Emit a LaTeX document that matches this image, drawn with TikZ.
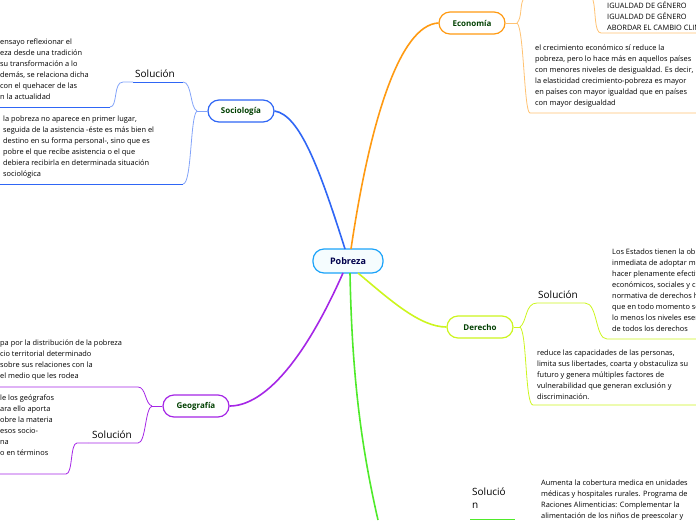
\documentclass[tikz,border=0pt]{standalone}
\usepackage{fontspec}
\setmainfont{Open Sans}
\begin{document}
\begin{tikzpicture}[x=1pt,y=-1pt,
  main/.style={draw=#1,line width=1.2pt,rounded corners=11pt,fill=white,minimum width=66pt,minimum height=22pt,font=\fontsize{8}{9}\selectfont\bfseries,text=green!25!black},
  txt/.style={anchor=north west,align=left,inner sep=0pt,font=\fontsize{7.4}{11}\selectfont,text=black},
  sol/.style={anchor=south west,inner sep=0pt,font=\fontsize{10}{13}\selectfont,text=black},
  ln/.style={draw=#1,line width=0.8pt},
  tk/.style={draw=#1,line width=1.6pt}]
\useasboundingbox (0,0) rectangle (696,520);
\clip (0,0) rectangle (696,520);
\definecolor{cBlue}{HTML}{2F66F5}
\definecolor{cOr}{HTML}{FF9A12}
\definecolor{cYg}{HTML}{CCF51E}
\definecolor{cPu}{HTML}{A526E6}
\definecolor{cGr}{HTML}{4FEA2A}
% nodes
\node[draw=cBlue!60!cyan,line width=1.2pt,rounded corners=11pt,fill=cyan!4,minimum width=70pt,minimum height=24pt,font=\fontsize{9}{10}\selectfont\bfseries,text=blue!30!black] (P) at (348,261) {Pobreza};
\node[main=cOr] (E) at (472,23) {Economía};
\node[main=cBlue] (S) at (241,111) {Sociología};
\node[main=cYg] (D) at (480,327) {Derecho};
\node[main=cPu] (G) at (196,406) {Geografía};
% main connectors
\draw[tk=cBlue] (345,249) .. controls (320,170) and (300,115) .. (S.east);
\draw[tk=cOr] (351,249) .. controls (370,120) and (400,25) .. (E.west);
\draw[tk=cYg] (358,273) .. controls (390,300) and (420,327) .. (D.west);
\draw[tk=cPu] (343,273) .. controls (300,370) and (260,406) .. (G.east);
\coordinate (gend) at (378,520);
\draw[tk=cGr] (350,273) .. controls (352,380) and (362,450) .. (gend);
% Economia
\coordinate (eb) at (517,23);
\draw[ln=cOr!60] (E.east) -- (eb);
\coordinate (et) at (523,0);
\draw[ln=cOr!60] (eb) .. controls (522,18) and (520,5) .. (et);
\coordinate (e1a) at (593,0);
\draw[ln=cOr!60] (e1a) .. controls (596,10) and (594,33) .. (601,33) -- (696,33);
\node[txt] (e1) at (607,1) {IGUALDAD DE GÉNERO\\IGUALDAD DE GÉNERO\\ABORDAR EL CAMBIO CLIMÁTICO};
\draw[ln=cOr!60] (eb) .. controls (524,28) and (524,113) .. (530,113) -- (696,113);
\node[txt] (e2) at (535,45) {el crecimiento económico sí reduce la\\pobreza, pero lo hace más en aquellos países\\con menores niveles de desigualdad. Es decir,\\la elasticidad crecimiento-pobreza es mayor\\en países con mayor igualdad que en países\\con mayor desigualdad};
% Sociologia
\coordinate (sb) at (197,111);
\draw[ln=cBlue!60] (S.west) -- (sb);
\node[sol] (ss) at (135,78) {Solución};
\draw[ln=cBlue] (183,82) -- (133,82);
\draw[ln=cBlue!60] (sb) .. controls (190,108) and (192,82) .. (183,82);
\draw[ln=cBlue!60] (133,82) -- (123,82) .. controls (113,82) and (118,107) .. (110,107);
\draw[ln=cBlue] (110,107) -- (0,107);
\node[txt] (s1) at (0,38.5) {ensayo reflexionar el\\eza desde una tradición\\ su transformación a lo\\demás, se relaciona dicha\\con el quehacer de las\\n la actualidad};
\draw[ln=cBlue!60] (sb) .. controls (190,116) and (192,184) .. (183,184);
\draw[ln=cBlue] (183,184) -- (0,184);
\node[txt] (s2) at (3,115.5) { la pobreza no aparece en primer lugar,\\seguida de la asistencia -éste es más bien el\\destino en su forma personal-, sino que es\\pobre el que recibe asistencia o el que\\debiera recibirla en determinada situación\\sociológica};
% Derecho
\coordinate (db) at (520,327);
\draw[ln=cYg] (D.east) -- (db);
\node[sol] (ds) at (538,299) {Solución};
\draw[ln=cYg] (db) .. controls (527,322) and (525,303) .. (537,303) -- (585,303);
\draw[ln=cYg] (585,303) .. controls (598,303) and (595,339) .. (607,339) -- (696,339);
\node[txt] (d1) at (612,248.5) {Los Estados tienen la obligación\\inmediata de adoptar medidas para\\hacer plenamente efectivos los derechos\\económicos, sociales y culturales; la\\normativa de derechos humanos exige\\que en todo momento se garanticen al\\lo menos los niveles esenciales mínimos\\de todos los derechos};
\draw[ln=cYg] (db) .. controls (527,332) and (525,405) .. (533,405) -- (696,405);
\node[txt] (d2) at (537,349.5) { reduce las capacidades de las personas,\\limita sus libertades, coarta y obstaculiza su\\futuro y genera múltiples factores de\\vulnerabilidad que generan exclusión y\\discriminación.};
% Geografia
\coordinate (gb) at (152,406);
\draw[ln=cPu] (G.west) -- (gb);
\draw[ln=cPu] (gb) .. controls (145,404) and (146,387) .. (138,387) -- (0,387);
\node[txt] (g1) at (0,339.5) {pa por la distribución de la pobreza\\ cio territorial determinado\\ sobre sus relaciones con la\\ el medio que les rodea};
\node[sol] (gs) at (92,439) {Solución};
\draw[ln=cPu] (gb) .. controls (145,408) and (146,443) .. (138,443) -- (88,443);
\draw[ln=cPu] (88,443) -- (77,443) .. controls (70,443) and (73,474) .. (66,474) -- (0,474);
\node[txt] (g2) at (0,394.5) {le los geógrafos\\ara ello aporta\\obre la materia\\esos socio-\\na\\o en términos};
% green branch
\node[sol,anchor=north west,align=left] (gs2) at (472,488) {Solució\\n};
\draw[ln=cGr] (470,519) -- (515,519);
\node[txt] (gt) at (541,479.5) { Aumenta la cobertura medica en unidades\\médicas y hospitales rurales. Programa de\\Raciones Alimenticias: Complementar la\\alimentación de los niños de preescolar y};
\end{tikzpicture}
\end{document}
